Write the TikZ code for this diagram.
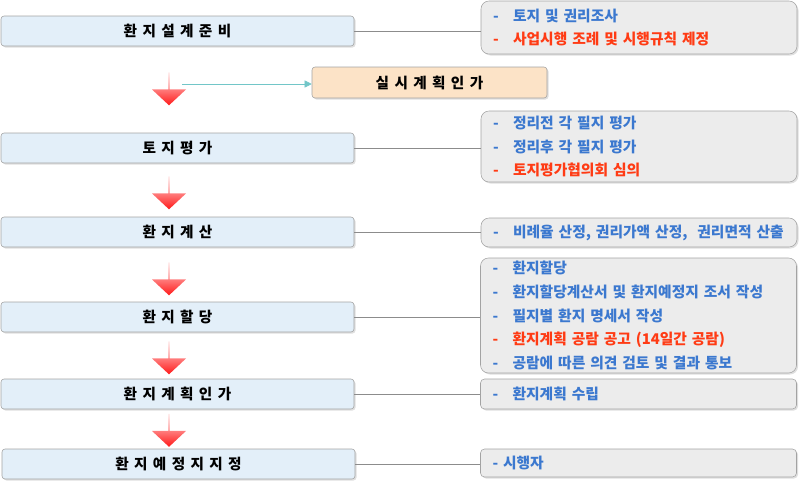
\documentclass[tikz,border=0pt]{standalone}
\usepackage{fontspec}
\setmainfont{Noto Sans CJK KR}[WordSpace=1.6]
\usepackage{xcolor}
\usetikzlibrary{positioning,shapes.arrows,shadows,arrows.meta}

\definecolor{stepblue}{HTML}{E3EFF9}
\definecolor{notegray}{HTML}{ECECEC}
\definecolor{planorange}{HTML}{FCE3C7}
\definecolor{itemblue}{HTML}{3B78CF}
\definecolor{itemred}{HTML}{FF3B14}
\definecolor{linkteal}{HTML}{72C6C8}
\definecolor{boxgray}{HTML}{A3A3A3}

\newlength\pu
\setlength\pu{0.025cm}
\newcommand\itm[2]{\textcolor{#1}{\makebox[20\pu][l]{-}#2}}

\begin{document}
\begin{tikzpicture}[x=\pu,y=-\pu]
		\tikzstyle{shadowed}=[drop shadow={shadow xshift=1.5\pu, shadow yshift=-1.5\pu, opacity=0.25}]
		\tikzstyle{step_box}=[shadowed, draw=boxgray, fill=stepblue, rounded corners=3\pu, minimum width=353\pu, minimum height=30\pu, inner sep=0, font=\bfseries\fontsize{10.4}{12}\selectfont]
		\tikzstyle{plan_box}=[step_box, fill=planorange, minimum width=235\pu, minimum height=31\pu]
		\tikzstyle{note_box}=[shadowed, draw=boxgray, fill=notegray, rounded corners=8\pu, text width=292\pu, inner xsep=12\pu, inner ysep=0, align=left, font=\bfseries\fontsize{10.5}{17}\selectfont]
		\tikzstyle{flow_arrow}=[single arrow, shape border rotate=270, draw=none, top color=red!10, bottom color=red!90, minimum height=33\pu, minimum width=34\pu, single arrow head extend=7\pu, single arrow tip angle=94, inner sep=0]
		\tikzstyle{link}=[draw=black!45, thin]
		\tikzstyle{plan_link}=[draw=linkteal, thin, -{Triangle[length=0.18cm,width=0.18cm]}]

		\useasboundingbox (0,0) rectangle (800,487);

		% steps on the left
		\node [step_box] (s1) at (177.5,31) {환 지 설 계 준 비};
		\node [step_box] (s2) at (177.5,148) {토 지 평 가};
		\node [step_box] (s3) at (177.5,232) {환 지 계 산};
		\node [step_box] (s4) at (177.5,317) {환 지 할 당};
		\node [step_box] (s5) at (177.5,394) {환 지 계 획 인 가};
		\node [step_box] (s6) at (178.5,464) {환 지 예 정 지 지 정};

		% arrows between the steps
		\node [flow_arrow] (a1) at (169,88.5) {};
		\node [flow_arrow] (a2) at (169,192.5) {};
		\node [flow_arrow] (a3) at (169,278.5) {};
		\node [flow_arrow] (a4) at (169,357.5) {};
		\node [flow_arrow] (a5) at (169,430) {};

		\node [plan_box] (plan) at (429.5,82.5) {실 시 계 획 인 가};
		\coordinate (a1out) at (182,84);
		\draw [plan_link] (a1out) -- (a1out -| plan.west);

		% notes on the right
		\node [note_box, minimum height=53\pu] (n1) at (639,27.5)
			{\itm{itemblue}{토지 및 권리조사}\\\itm{itemred}{사업시행 조례 및 시행규칙 제정}};
		\node [note_box, minimum height=71\pu] (n2) at (639,146.5)
			{\itm{itemblue}{정리전 각 필지 평가}\\\itm{itemblue}{정리후 각 필지 평가}\\\itm{itemred}{토지평가협의회 심의}};
		\node [note_box, minimum height=29\pu] (n3) at (639,232.5)
			{\itm{itemblue}{비례율 산정, 권리가액 산정,\ \ 권리면적 산출}};
		\node [note_box, minimum height=115\pu] (n4) at (638.5,315.5)
			{\itm{itemblue}{환지할당}\\\itm{itemblue}{환지할당계산서 및 환지예정지 조서 작성}\\\itm{itemblue}{필지별 환지 명세서 작성}\\\itm{itemred}{환지계획 공람 공고 (14일간 공람)}\\\itm{itemblue}{공람에 따른 의견 검토 및 결과 통보}};
		\node [note_box, rounded corners=4\pu, minimum height=30\pu] (n5) at (638.5,394)
			{\itm{itemblue}{환지계획 수립}};
		\node [note_box, rounded corners=4\pu, minimum height=28\pu] (n6) at (638.5,463)
			{\textcolor{itemblue}{- 시행자}};

		\draw [link] (s1.east) -- (s1.east -| n1.west);
		\draw [link] (s2.east) -- (s2.east -| n2.west);
		\draw [link] (s3.east) -- (s3.east -| n3.west);
		\draw [link] (s4.east) -- (s4.east -| n4.west);
		\draw [link] (s5.east) -- (s5.east -| n5.west);
		\draw [link] (s6.east) -- (s6.east -| n6.west);
	\end{tikzpicture}
\end{document}
